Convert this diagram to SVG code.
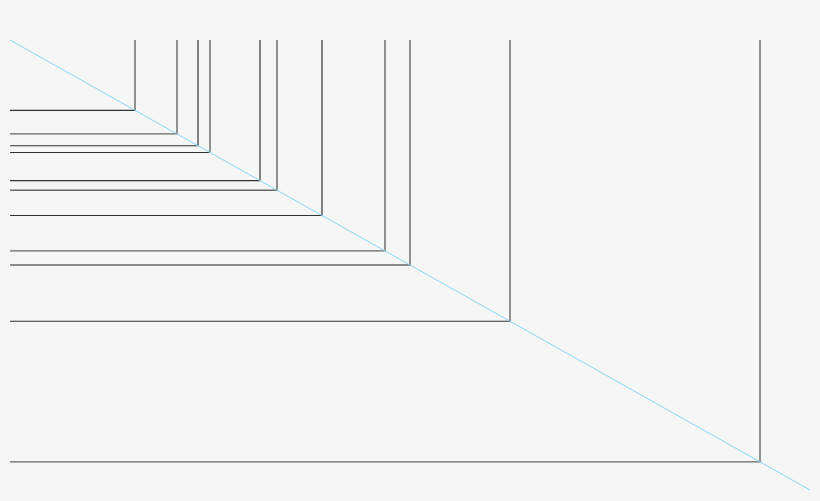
<svg xmlns="http://www.w3.org/2000/svg" width="820" height="501" viewBox="0 0 820 501">
<style>
.d{stroke:#333;stroke-width:1.2;fill:none}
.g{stroke:#666;stroke-width:1.4;fill:none}
.diag{stroke:#87d8f5;stroke-width:1;fill:none}
</style>
<rect width="820" height="501" fill="#f6f6f6"/>
<g id="connectors">
<path class="g" d="M135,40V110.3"/><path class="d" d="M10,110.3H135"/>
<path class="g" d="M177,40V133.9H10"/>
<path class="d" d="M198,40V145.75H10"/>
<path class="g" d="M210,40V152.5"/><path class="d" d="M10,152.5H210"/>
<path class="d" d="M260,40V180.6H10"/>
<path class="g" d="M277,40V190.2H10"/>
<path class="d" d="M322,40V215.5H10"/>
<path class="g" d="M385,40V250.9H10"/>
<path class="g" d="M410,40V265H10"/>
<path class="g" d="M510,40V321.25"/><path class="d" d="M10,321.25H510"/>
<path class="g" d="M760,40V461.9H10"/>
<path class="diag" d="M10,40L810,490"/>
</g>
</svg>
